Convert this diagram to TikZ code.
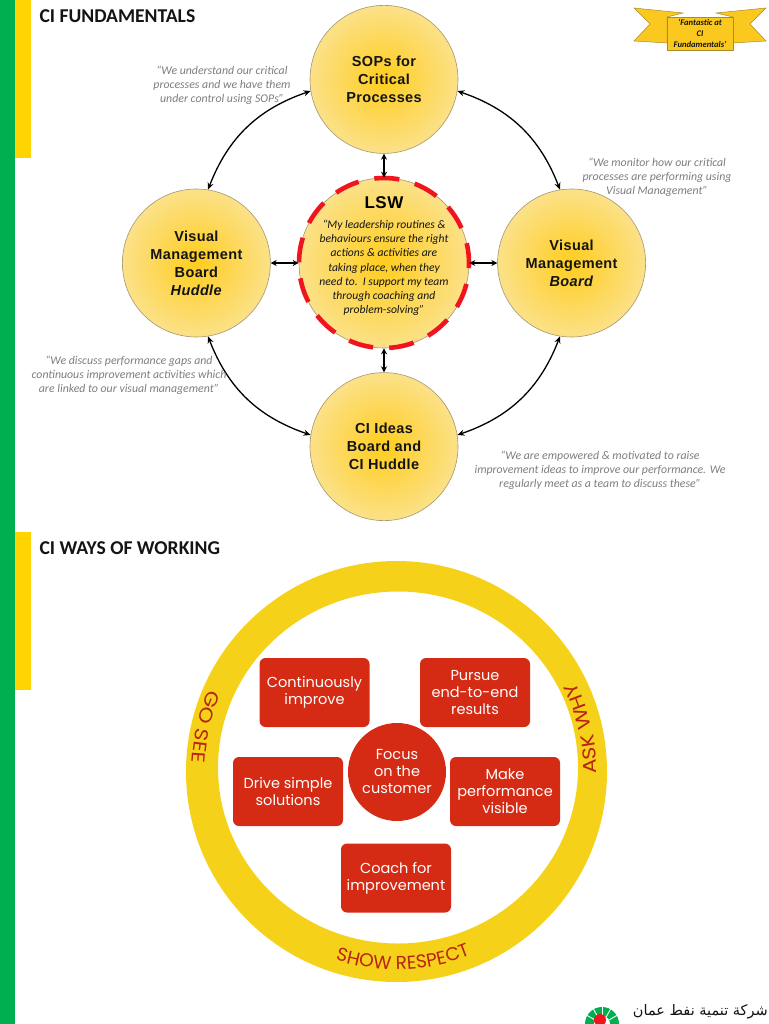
\documentclass[tikz,border=0pt]{standalone}
\usepackage{fontspec}
\usepackage{xcolor}
\usepackage{tikz}
\usetikzlibrary{positioning,arrows.meta,decorations.text}
\setmainfont{Carlito}
\newfontfamily\hubfont[LetterSpace=2.5]{Liberation Sans}
\newfontfamily\wayfont{Poppins}
\newfontfamily\sideringfont[FakeStretch=1.17]{Poppins}
\newfontfamily\arabicfont[Script=Arabic]{DejaVu Sans}
\TeXXeTstate=1
\definecolor{ink}{RGB}{20,20,20}
\definecolor{grayink}{RGB}{125,125,125}
\definecolor{barGreen}{RGB}{0,176,80}
\definecolor{barYellow}{RGB}{255,212,0}
\definecolor{ringYellow}{RGB}{245,210,25}
\definecolor{wayRed}{RGB}{213,43,20}
\definecolor{ringText}{RGB}{185,35,20}
\definecolor{hubEdge}{RGB}{165,150,110}
\definecolor{glowIn}{RGB}{255,205,30}
\definecolor{glowOut}{RGB}{250,232,175}
\definecolor{dashRed}{RGB}{240,20,30}
\definecolor{bannerEdge}{RGB}{170,140,40}
\definecolor{bannerFill}{RGB}{250,200,30}
\pgfdeclareradialshading{hubglow}{\pgfpoint{0bp}{0bp}}{color(0bp)=(glowIn); color(34bp)=(glowOut); color(50bp)=(glowOut)}
\begin{document}
\begin{tikzpicture}[
  x=1pt,y=-1pt,
  every node/.style={font=\small},
  hub/.style={circle,draw=hubEdge,line width=0.6pt,shading=hubglow,minimum size=148pt,inner sep=0pt,align=center,font=\hubfont\fontsize{14.5}{18}\selectfont\bfseries,text=ink},
  quote/.style={align=center,text=grayink,font=\fontsize{11.8}{14}\selectfont\itshape},
  heading/.style={anchor=west,text=ink,font=\fontsize{19.6}{22}\selectfont\bfseries},
  loop/.style={{Stealth[length=7pt,width=6pt]}-{Stealth[length=7pt,width=6pt]},line width=1.3pt,draw=black},
  link/.style={{Stealth[length=6pt,width=6pt]}-{Stealth[length=6pt,width=6pt]},line width=1.4pt,draw=black},
  waybox/.style={draw=none,fill=wayRed,rounded corners=6pt,minimum width=110pt,minimum height=69pt,inner sep=0pt,align=center,text=white,font=\wayfont\fontsize{14.5}{17}\selectfont},
  ringlabel/.style 2 args={decorate,decoration={text along path,text align=center,text={|#1\fontsize{18.6}{18.6}\selectfont\color{ringText}|#2}}}
]
\useasboundingbox (0,0) rectangle (768,1024);
% side bars
\fill[barGreen] (0,0) rectangle (15,1024);
\fill[barYellow] (15,0) rectangle (31,158);
\fill[barYellow] (15,532) rectangle (31,690);
\node[heading] (fundTitle) at (36,16) {CI FUNDAMENTALS};
\node[heading] (waysTitle) at (36,548) {CI WAYS OF WORKING};
% banner
\filldraw[draw=bannerEdge,fill=bannerFill,line width=0.5pt] (683,13) -- (634,8) -- (650,24) -- (634,41) -- (667,43) -- (667,17) -- cycle;
\filldraw[draw=bannerEdge,fill=bannerFill,line width=0.5pt] (716,13) -- (766,8) -- (750,24) -- (766,41) -- (733,43) -- (733,17) -- cycle;
\node[draw=bannerEdge,fill=bannerFill,line width=0.5pt,minimum width=66pt,minimum height=33pt,inner sep=0pt,align=center,text=ink,font=\fontsize{8.6}{11}\selectfont\bfseries\itshape] (banner) at (700,33.5) {‘Fantastic at\\CI\\Fundamentals’};
% fundamentals wheel
\node[hub,minimum size=170pt] (lsw) at (384,263) {};
\node[hub,above=24pt of lsw] (sops) {SOPs for\\Critical\\Processes};
\node[hub,left=28pt of lsw] (huddle) {Visual\\Management\\Board\\\textit{Huddle}};
\node[hub,right=28pt of lsw] (board) {Visual\\Management\\\textit{Board}};
\node[hub,below=24pt of lsw] (ideas) {CI Ideas\\Board and\\CI Huddle};
\draw[dashRed,line width=4.6pt,dash pattern=on 25pt off 16.08pt,dash phase=19.9pt] (lsw.center) circle (85);
\node[font=\hubfont\fontsize{17}{20}\selectfont\bfseries,text=black] (lswName) at (384,203) {LSW};
\node[quote,font=\fontsize{11.6}{14.2}\selectfont\itshape,text=ink,below=4pt of lswName] (lswText) {“My leadership routines \&\\behaviours ensure the right\\actions \& activities are\\taking place, when they\\need to.\ \ I support my team\\through coaching and\\problem-solving”};
\draw[link] (sops) -- (lsw);
\draw[link] (huddle) -- (lsw);
\draw[link] (board) -- (lsw);
\draw[link] (ideas) -- (lsw);
\draw[loop] (sops.189) to[bend right=25] (huddle.81);
\draw[loop] (sops.-9) to[bend left=25] (board.99);
\draw[loop] (huddle.279) to[bend right=25] (ideas.171);
\draw[loop] (board.261) to[bend left=25] (ideas.9);
\node[quote] (sopsQuote) at (222,85) {“We understand our critical\\processes and we have them\\under control using SOPs”};
\node[quote] (boardQuote) at (657,177) {“We monitor how our critical\\processes are performing using\\Visual Management”};
\node[quote] (huddleQuote) at (129,375) {“We discuss performance gaps and\\continuous improvement activities which\\are linked to our visual management”};
\node[quote] (ideasQuote) at (600,470) {“We are empowered \& motivated to raise\\improvement ideas to improve our performance. We\\regularly meet as a team to discuss these”};
% ways of working ring
\coordinate (ringc) at (396.5,771.5);
\fill[ringYellow,even odd rule] (ringc) circle (210.5) (398,767.5) ellipse (180 and 176);
\path[ringlabel={\sideringfont}{GO SEE}] (ringc) ++(-127:204.5) arc[start angle=-127,end angle=-207,radius=204.5];
\path[ringlabel={\sideringfont}{ASK WHY}] (ringc) ++(27:200) arc[start angle=27,end angle=-53,radius=200];
\path[ringlabel={\wayfont}{SHOW RESPECT}] (ringc) ++(-232:198) arc[start angle=-232,end angle=-312,radius=198];
\node[waybox,circle,minimum size=98pt,minimum width=98pt] (focus) at (397,772) {Focus\\on the\\customer};
\node[waybox] (improve) at (314.5,692.5) {Continuously\\improve};
\node[waybox] (pursue) at (475,692.5) {Pursue\\end-to-end\\results};
\node[waybox] (simple) at (288,791.5) {Drive simple\\solutions};
\node[waybox] (visible) at (505,791.5) {Make\\performance\\visible};
\node[waybox] (coach) at (396,878) {Coach for\\improvement};
% footer logo
\fill[barGreen] (585,1024) arc[start angle=180,end angle=360,radius=17] -- cycle;
\foreach \a in {-150,-120,-90,-60,-30}
  \draw[white,line width=0.9pt] (602,1024) -- ++(\a:18);
\fill[white] (602,1024) circle (8);
\fill[dashRed] (600,1020) circle (6);
\node[anchor=east,text=ink,inner sep=0pt,font=\arabicfont\fontsize{14.5}{20}\selectfont] (logoText) at (768,1012) {\beginR شركة تنمية نفط عمان\endR};
\end{tikzpicture}
\end{document}
